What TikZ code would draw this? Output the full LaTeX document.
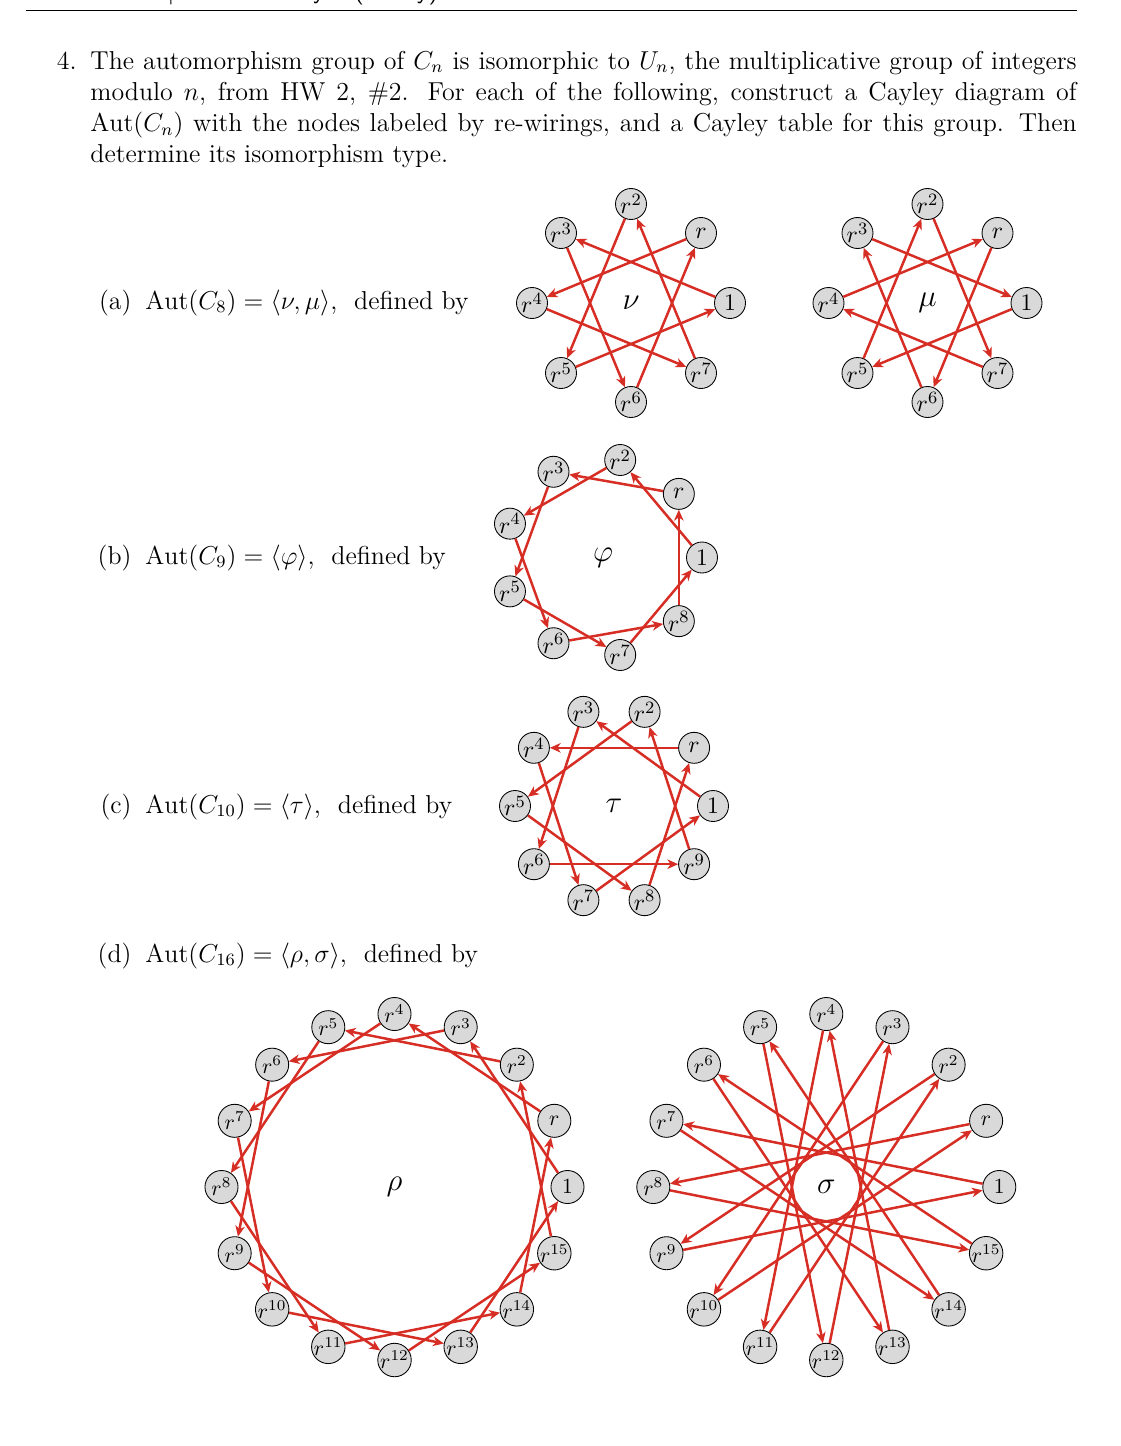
\documentclass[tikz,border=0pt,12pt]{standalone}
\usepackage{tikz}
\usetikzlibrary{arrows.meta}
\usetikzlibrary{calc}
\definecolor{edgered}{RGB}{214,45,36}
\tikzstyle{vertex}=[circle,fill=black!15,draw,minimum size=14.35pt,inner sep=0pt,font=\small]
\tikzstyle{bigvertex}=[circle,fill=black!15,draw,minimum size=15.3pt,inner sep=0pt,font=\footnotesize]
\tikzstyle{edge} = [draw,edgered,line width=1.15pt,-{Stealth[length=5pt,width=4.4pt,inset=1.5pt]}]
\tikzstyle{gen} = [inner sep=0pt,font=\large]
\tikzstyle{parttext} = [anchor=base west,inner sep=0pt]
\tikzstyle{partlabel} = [anchor=base east,inner sep=0pt]
\newcommand{\rpow}[1]{\ifnum#1=0 1\else\ifnum#1=1 r\else r^{#1}\fi\fi}

\begin{document}
\begin{tikzpicture}[x=0.46296pt,y=-0.46296pt]
  \useasboundingbox (0,0) rectangle (1120,1446);

  % running head
  \node[parttext,font=\sffamily] (head) at (26,-2) {Homework 4 \textbar\ Due February 5 (Friday)};
  \node[partlabel,font=\sffamily] (page) at (1077,-2) {5};
  \draw[line width=0.4pt] (26,10) -- (1077,10);

  % problem statement
  \node[partlabel] (num) at (77,69) {4.};
  \node[parttext,text width=456.6pt,align=justify] (prob) at (90,69)
    {The automorphism group of $C_n$ is isomorphic to $U_n$, the multiplicative group of integers
     modulo $n$, from HW 2, \#2. For each of the following, construct a Cayley diagram of
     $\mathrm{Aut}(C_n)$ with the nodes labeled by re-wirings, and a Cayley table for this group. Then
     determine its isomorphism type.};

  \node[partlabel] (la) at (132,309) {(a)};
  \node[parttext] (ta) at (145,309) {$\mathrm{Aut}(C_8)=\langle\nu,\mu\rangle$,\ \ defined by};
  \node[partlabel] (lb) at (132,564) {(b)};
  \node[parttext] (tb) at (145,564) {$\mathrm{Aut}(C_9)=\langle\varphi\rangle$,\ \ defined by};
  \node[partlabel] (lc) at (132,813) {(c)};
  \node[parttext] (tc) at (145,813) {$\mathrm{Aut}(C_{10})=\langle\tau\rangle$,\ \ defined by};
  \node[partlabel] (ld) at (132,962) {(d)};
  \node[parttext] (td) at (145,962) {$\mathrm{Aut}(C_{16})=\langle\rho,\sigma\rangle$,\ \ defined by};

  % (a) nu : r^k -> r^{k+3}
  \def\dx{631}; \def\dy{303}; \def\rad{99};
  \foreach \k in {0,...,7}
    \node[vertex] (nu\k) at ({\dx+\rad*cos(\k*45)},{\dy-\rad*sin(\k*45)}) {$\rpow{\k}$};
  \foreach \k in {0,...,7}{
    \pgfmathtruncatemacro\j{mod(\k+3,8)}
    \path[edge] (nu\k) -- (nu\j);
  }
  \node[gen] (nuL) at (\dx,\dy) {$\nu$};

  % (a) mu : r^k -> r^{k+5}
  \def\dx{927.5}; \def\dy{303};
  \foreach \k in {0,...,7}
    \node[vertex] (mu\k) at ({\dx+\rad*cos(\k*45)},{\dy-\rad*sin(\k*45)}) {$\rpow{\k}$};
  \foreach \k in {0,...,7}{
    \pgfmathtruncatemacro\j{mod(\k+5,8)}
    \path[edge] (mu\k) -- (mu\j);
  }
  \node[gen] (muL) at (\dx,\dy) {$\mu$};

  % (b) phi : r^k -> r^{k+2}
  \def\dx{603}; \def\dy{557.5};
  \foreach \k in {0,...,8}
    \node[vertex] (phi\k) at ({\dx+\rad*cos(\k*40)},{\dy-\rad*sin(\k*40)}) {$\rpow{\k}$};
  \foreach \k in {0,...,8}{
    \pgfmathtruncatemacro\j{mod(\k+2,9)}
    \path[edge] (phi\k) -- (phi\j);
  }
  \node[gen] (phiL) at (\dx,\dy) {$\varphi$};

  % (c) tau : r^k -> r^{k+3}
  \def\dx{614}; \def\dy{806};
  \foreach \k in {0,...,9}
    \node[vertex] (tau\k) at ({\dx+\rad*cos(\k*36)},{\dy-\rad*sin(\k*36)}) {$\rpow{\k}$};
  \foreach \k in {0,...,9}{
    \pgfmathtruncatemacro\j{mod(\k+3,10)}
    \path[edge] (tau\k) -- (tau\j);
  }
  \node[gen] (tauL) at (\dx,\dy) {$\tau$};

  % (d) rho : r^k -> r^{k+3}
  \def\dx{394.5}; \def\dy{1187}; \def\rad{173};
  \foreach \k in {0,...,15}
    \node[bigvertex] (rho\k) at ({\dx+\rad*cos(\k*22.5)},{\dy-\rad*sin(\k*22.5)}) {$\rpow{\k}$};
  \foreach \k in {0,...,15}{
    \pgfmathtruncatemacro\j{mod(\k+3,16)}
    \path[edge] (rho\k) -- (rho\j);
  }
  \node[gen] (rhoL) at (\dx,\dy) {$\rho$};

  % (d) sigma : r^k -> r^{k+7}
  \def\dx{826.3};
  \foreach \k in {0,...,15}
    \node[bigvertex] (sig\k) at ({\dx+\rad*cos(\k*22.5)},{\dy-\rad*sin(\k*22.5)}) {$\rpow{\k}$};
  \foreach \k in {0,...,15}{
    \pgfmathtruncatemacro\j{mod(\k+7,16)}
    \path[edge] (sig\k) -- (sig\j);
  }
  \node[gen] (sigL) at (\dx,\dy) {$\sigma$};

\end{tikzpicture}
\end{document}
